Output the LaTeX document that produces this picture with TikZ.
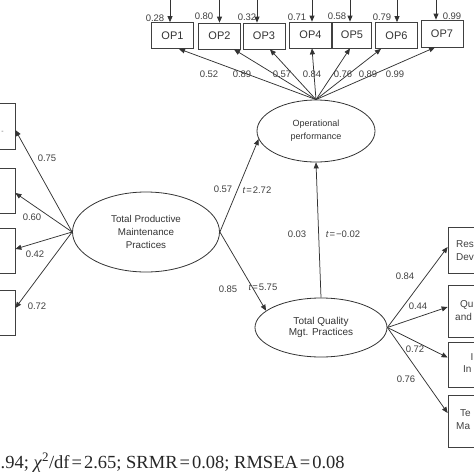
\documentclass[tikz,border=0pt]{standalone}
\usepackage{fontspec}
\setmainfont{Liberation Serif}
\setsansfont{Liberation Sans}
\usetikzlibrary{arrows.meta,shapes.geometric,calc}
\begin{document}
\begin{tikzpicture}[x=1pt,y=-1pt,
 ln/.style={draw=black!80,line width=0.75pt},
 arr/.style={ln,-{Triangle[length=6pt,width=5pt]}},
 box/.style={draw=black!75,line width=0.75pt,minimum width=42pt,minimum height=26pt,inner sep=0pt,font=\sffamily\fontsize{11}{13}\selectfont,text=black!80},
 sidebox/.style={draw=black!75,line width=0.75pt,inner sep=0pt},
 lat/.style={draw=black!80,line width=0.8pt,ellipse,inner sep=0pt,align=center,text=black!80},
 lbl/.style={font=\sffamily\fontsize{9.5}{11}\selectfont,text=black!75,inner sep=0pt},
 frag/.style={font=\sffamily\fontsize{10}{12}\selectfont,text=black!75,inner sep=0pt,anchor=west},
]
\useasboundingbox (0,0) rectangle (474,474);
\clip (0,0) rectangle (474,474);

% latent variables
\node[lat,minimum width=147pt,minimum height=80pt,font=\sffamily\fontsize{9.8}{13}\selectfont] (tpm) at (146,232) {Total Productive\\Maintenance\\Practices};
\node[lat,minimum width=118pt,minimum height=62pt,font=\sffamily\fontsize{9}{13}\selectfont] (op) at (316,131) {Operational\\performance};
\node[lat,minimum width=132pt,minimum height=59pt,font=\sffamily\fontsize{10}{11.5}\selectfont] (tqm) at (321,327.5) {Total Quality\\Mgt. Practices};

% OP boxes
\node[box] (OP1) at (172.5,35.5) {OP1};
\node[box] (OP2) at (219.5,36) {OP2};
\node[box] (OP3) at (264,36) {OP3};
\node[box] (OP4) at (310.5,35) {OP4};
\node[box,minimum width=39pt] (OP5) at (352,35) {OP5};
\node[box] (OP6) at (396.5,35.5) {OP6};
\node[box,minimum height=27pt] (OP7) at (442,33.5) {OP7};

% error terms
\coordinate (e1) at (170,-1);
\coordinate (e2) at (219.5,-1);
\coordinate (e3) at (257,-1);
\coordinate (e4) at (312,-1);
\coordinate (e5) at (350,-1);
\coordinate (e6) at (397,-1);
\coordinate (e7) at (436,-1);
\draw[arr] (e1) -- (e1 |- OP1.north);
\draw[arr] (e2) -- (e2 |- OP2.north);
\draw[arr] (e3) -- (e3 |- OP3.north);
\draw[arr] (e4) -- (e4 |- OP4.north);
\draw[arr] (e5) -- (e5 |- OP5.north);
\draw[arr] (e6) -- (e6 |- OP6.north);
\draw[arr] (e7) -- (e7 |- OP7.north);
\node[lbl] (w1) at (155,18) {0.28};
\node[lbl] (w2) at (204,16) {0.80};
\node[lbl] (w3) at (247,17) {0.32};
\node[lbl] (w4) at (297,17) {0.71};
\node[lbl] (w5) at (337,16) {0.58};
\node[lbl] (w6) at (382,17) {0.79};
\node[lbl] (w7) at (452,16) {0.99};

% loadings of operational performance
\draw[arr] (op.north) -- ([xshift=6.5pt]OP1.south);
\draw[arr] (op.north) -- ([xshift=14.5pt]OP2.south);
\draw[arr] (op.north) -- ([xshift=6pt]OP3.south);
\draw[arr] (op.north) -- ([xshift=1.5pt]OP4.south);
\draw[arr] (op.north) -- ([xshift=-2pt]OP5.south);
\draw[arr] (op.north) -- ([xshift=-15.5pt]OP6.south);
\draw[arr] (op.north) -- ([xshift=-7pt]OP7.south);
\node[lbl] (k1) at (209,74) {0.52};
\node[lbl] (k2) at (242,74) {0.89};
\node[lbl] (k3) at (282,74) {0.57};
\node[lbl] (k4) at (312,74) {0.84};
\node[lbl] (k5) at (343,74) {0.76};
\node[lbl] (k6) at (368,74) {0.89};
\node[lbl] (k7) at (395,74) {0.99};

% left boxes
\node[sidebox,minimum width=45pt,minimum height=46pt] (l1) at (-7.5,126) {};
\node[sidebox,minimum width=45pt,minimum height=45pt] (l2) at (-7.5,190.5) {};
\node[sidebox,minimum width=45pt,minimum height=45pt] (l3) at (-7.5,250.5) {};
\node[sidebox,minimum width=45pt,minimum height=45pt] (l4) at (-7.5,312.5) {};
\node[font=\sffamily\fontsize{7}{8}\selectfont,text=black!60,inner sep=0pt] (l1t) at (2.5,132) {-};
\draw[arr] (tpm.west) -- ([yshift=-4pt]l1.east);
\draw[arr] (tpm.west) -- ([yshift=-2.5pt]l2.east);
\draw[arr] (tpm.west) -- ([yshift=1.5pt]l3.east);
\draw[arr] (tpm.west) -- ([yshift=4.5pt]l4.east);
\node[lbl] (m1) at (47,158) {0.75};
\node[lbl] (m2) at (32,217) {0.60};
\node[lbl] (m3) at (35,254) {0.42};
\node[lbl] (m4) at (37,306) {0.72};

% structural paths
\draw[arr] (tpm.east) -- (op.188);
\draw[arr] (tpm.east) -- (tqm.163);
\draw[arr] (tqm.north) -- (op.south);
\node[lbl] (p1) at (223,189) {0.57};
\node[lbl] (p2) at (257,190) {\textit{t}\kern0.8pt=\kern0.8pt2.72};
\node[lbl] (p3) at (228,289) {0.85};
\node[lbl] (p4) at (263,287) {\textit{t}\kern0.8pt=\kern0.8pt5.75};
\node[lbl] (p5) at (297,234) {0.03};
\node[lbl] (p6) at (343,234) {\textit{t}\kern0.8pt=\kern0.8pt−0.02};

% right boxes
\node[sidebox,minimum width=62pt,minimum height=46pt] (r1) at (479,250) {};
\node[sidebox,minimum width=62pt,minimum height=52pt] (r2) at (479,311) {};
\node[sidebox,minimum width=62pt,minimum height=45pt] (r3) at (479,364.5) {};
\node[sidebox,minimum width=62pt,minimum height=52pt] (r4) at (479,421) {};
\draw[arr] (tqm.east) -- ([yshift=3pt]r1.west);
\draw[arr] (tqm.east) -- ([yshift=4pt]r2.west);
\draw[arr] (tqm.east) -- ([yshift=7pt]r3.west);
\draw[arr] (tqm.east) -- ([yshift=8pt]r4.west);
\node[lbl] (n1) at (405,276) {0.84};
\node[lbl] (n2) at (418,306) {0.44};
\node[lbl] (n3) at (415,349) {0.72};
\node[lbl] (n4) at (406,379) {0.76};
\node[frag] (f1) at (456,244) {Res};
\node[frag] (f2) at (456,257) {Dev};
\node[frag] (f3) at (460,305) {Qu};
\node[frag] (f4) at (455,317) {and};
\node[frag] (f5) at (470.5,357) {I};
\node[frag] (f6) at (463,369) {In};
\node[frag] (f7) at (460,413) {Te};
\node[frag] (f8) at (456,426) {Ma};

% fit statistics
\node[anchor=base west,inner sep=0pt,font=\fontsize{18.5}{20}\selectfont,text=black!85] (fit) at (0.5,468) {.94; \textit{χ}\textsuperscript{2}/df\kern2pt=\kern2pt2.65; SRMR\kern2pt=\kern2pt0.08; RMSEA\kern2pt=\kern2pt0.08};
\end{tikzpicture}
\end{document}
